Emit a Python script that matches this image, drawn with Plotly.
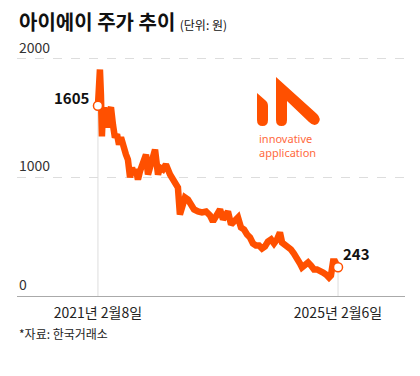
import plotly.graph_objects as go

# ---- data ----
dates = [
    "2021-02-08", "2021-02-14", "2021-02-20", "2021-02-26", "2021-03-04", "2021-03-10",
    "2021-03-16", "2021-03-29", "2021-04-04", "2021-04-16", "2021-04-28", "2021-05-10",
    "2021-05-22", "2021-06-04", "2021-06-16", "2021-06-28", "2021-07-10", "2021-07-28",
    "2021-08-09", "2021-08-22", "2021-09-03", "2021-09-15", "2021-09-27", "2021-10-09",
    "2021-10-21", "2021-11-09", "2021-11-27", "2021-12-09", "2021-12-27", "2022-01-21",
    "2022-02-08", "2022-02-20", "2022-03-10", "2022-03-28", "2022-04-22", "2022-05-16",
    "2022-06-09", "2022-06-21", "2022-07-04", "2022-07-22", "2022-08-09", "2022-08-27",
    "2022-09-15", "2022-10-09", "2022-11-02", "2022-11-27", "2022-12-21", "2023-01-08",
    "2023-02-01", "2023-02-20", "2023-03-10", "2023-03-28", "2023-04-09", "2023-04-28",
    "2023-05-22", "2023-06-09", "2023-06-27", "2023-07-16", "2023-08-03", "2023-08-21",
    "2023-09-08", "2023-09-26", "2023-10-15", "2023-11-02", "2023-11-20", "2023-12-08",
    "2023-12-27", "2024-01-14", "2024-02-01", "2024-02-19", "2024-03-03", "2024-03-21",
    "2024-04-08", "2024-04-26", "2024-05-14", "2024-06-02", "2024-06-20", "2024-07-02",
    "2024-07-20", "2024-08-08", "2024-08-26", "2024-09-13", "2024-10-01", "2024-10-20",
    "2024-11-07", "2024-11-25", "2024-12-13", "2024-12-25", "2025-01-07", "2025-01-19",
    "2025-02-06",
]
prices = [
    1605, 1827, 1911, 1700, 1346, 1557,
    1591, 1506, 1422, 1557, 1591, 1447,
    1338, 1363, 1278, 1338, 1253, 1194,
    1152, 1000, 1084, 1025, 1068, 983,
    1051, 1110, 1194, 1025, 1110, 1236,
    1025, 1084, 1068, 1110, 1025, 966,
    916, 688, 772, 831, 814, 772,
    730, 713, 705, 713, 679, 629,
    679, 730, 646, 688, 713, 603,
    629, 662, 578, 561, 519, 494,
    443, 426, 426, 401, 418, 460,
    477, 443, 477, 536, 451, 435,
    409, 392, 359, 325, 274, 241,
    257, 283, 257, 224, 224, 215,
    198, 181, 156, 173, 291, 291,
    243,
]
tick_dates = ["2021-02-08", "2025-02-06"]
tick_labels = ["2021년 2월8일", "2025년 2월6일"]
y_ticks = [0, 1000, 2000]

ORANGE = "#FF5000"
FONT = "Noto Sans CJK KR"

# plot area in pixels (for decorative placement)
L, R, T, B = 17, 405, 45, 296
def px(x):
    return (x - L) / (R - L)
def py(y):
    return (B - y) / (B - T)

fig = go.Figure()
fig.add_trace(go.Scatter(
    x=dates, y=prices, mode="lines",
    line=dict(color=ORANGE, width=6.5, shape="linear"),
    hoverinfo="skip",
))
# endpoint markers
fig.add_trace(go.Scatter(
    x=[dates[0], dates[-1]], y=[prices[0], prices[-1]], mode="markers",
    marker=dict(size=9, color="white", line=dict(color=ORANGE, width=1.5)),
    hoverinfo="skip",
))

shapes = []
for d, v in [(dates[0], prices[0]), (dates[-1], prices[-1])]:
    shapes.append(dict(type="line", xref="x", yref="y", x0=d, x1=d, y0=0, y1=v,
                       line=dict(color="#dddddd", width=1), layer="below"))

# logo shapes (decorative)
left_piece = ("M{},{} L{},{} Q{},{} {},{} L{},{} Q{},{} {},{} Q{},{} {},{} Z").format(
    px(257), py(93), px(265), py(100),
    px(268), py(102), px(268), py(106),
    px(268), py(120),
    px(268), py(126), px(262.5), py(126),
    px(257), py(126), px(257), py(120))
right_piece = ("M{},{} L{},{} Q{},{} {},{} Q{},{} {},{} L{},{} L{},{} Q{},{} {},{} Q{},{} {},{} Z").format(
    px(276), py(77), px(317), py(114),
    px(322), py(119), px(318), py(123.5),
    px(314), py(127), px(309), py(122),
    px(287), py(101), px(287), py(120),
    px(287), py(126), px(281.5), py(126),
    px(276), py(126), px(276), py(120))
for p in (left_piece, right_piece):
    shapes.append(dict(type="path", xref="paper", yref="paper", path=p,
                       fillcolor=ORANGE, line=dict(width=0), layer="above"))

annotations = []
for v in y_ticks:
    annotations.append(dict(xref="paper", yref="y", x=0, y=v, text=str(v),
                            xanchor="left", yanchor="bottom", yshift=0, showarrow=False,
                            font=dict(family=FONT, size=14, color="#333333")))
annotations.append(dict(xref="x", yref="y", x=dates[0], y=prices[0], text="<b>%d</b>" % prices[0],
                        xanchor="right", yanchor="middle", xshift=-6, yshift=8, showarrow=False,
                        font=dict(family=FONT, size=15, color="#111111")))
annotations.append(dict(xref="x", yref="y", x=dates[-1], y=prices[-1], text="<b>%d</b>" % prices[-1],
                        xanchor="left", yanchor="middle", xshift=3, yshift=14, showarrow=False,
                        font=dict(family=FONT, size=15, color="#111111")))
annotations.append(dict(xref="paper", yref="paper", x=0, y=py(21),
                        text="<b>아이에이 주가 추이</b> <span style='font-size:12px'>(단위: 원)</span>",
                        xanchor="left", yanchor="middle", showarrow=False,
                        font=dict(family=FONT, size=20, color="#111111")))
annotations.append(dict(xref="paper", yref="paper", x=0, y=py(333), text="*자료: 한국거래소",
                        xanchor="left", yanchor="middle", showarrow=False,
                        font=dict(family=FONT, size=12, color="#222222")))
annotations.append(dict(xref="paper", yref="paper", x=px(257), y=py(145),
                        text="innovative<br>application", align="left",
                        xanchor="left", yanchor="middle", showarrow=False,
                        font=dict(family="Noto Sans", size=11, color="#FF6A3D")))

fig.update_layout(
    width=420, height=376,
    margin=dict(l=L, r=420 - R, t=T, b=376 - B),
    paper_bgcolor="white", plot_bgcolor="white",
    showlegend=False,
    shapes=shapes, annotations=annotations,
    xaxis=dict(type="date", range=["2019-10-05", "2026-03-20"],
               tickvals=tick_dates, ticktext=tick_labels,
               showgrid=False, zeroline=False, showline=True, linecolor="#aaaaaa", linewidth=1,
               ticks="", ticklabelstandoff=4,
               tickfont=dict(family=FONT, size=14, color="#222222")),
    yaxis=dict(range=[0, 2118], tickvals=y_ticks, showticklabels=False,
               showgrid=True, gridcolor="#dddddd", griddash="dash", gridwidth=1,
               zeroline=False, showline=False, ticks=""),
)

fig.write_html("out.html", config={"displayModeBar": False},
               post_script="document.body.style.margin='0px';")
